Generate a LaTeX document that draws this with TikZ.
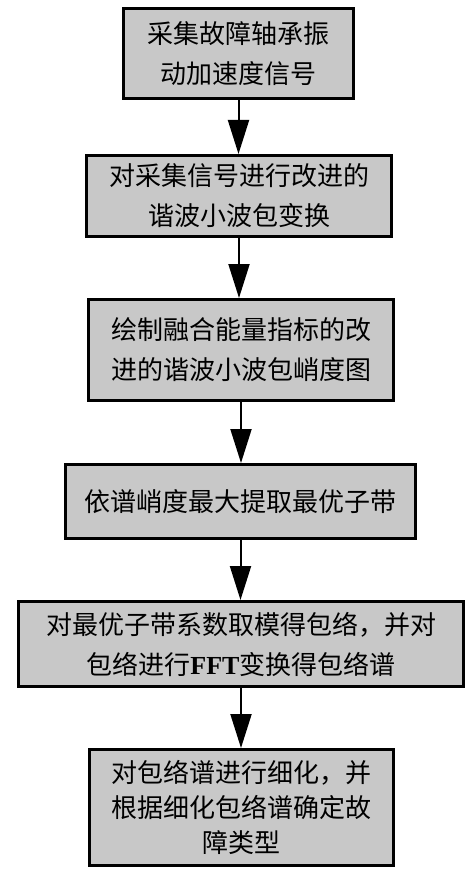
\documentclass[tikz,border=0pt]{standalone}
\usepackage{fontspec}
\newfontfamily\cjk{Noto Sans CJK SC}
\newfontfamily\latinserif{Liberation Serif}
\usetikzlibrary{arrows.meta}
\definecolor{boxgrey}{RGB}{200,200,200}

\begin{document}
\begin{tikzpicture}[
  x=1pt, y=-1pt,
  font=\cjk\fontsize{26}{40}\selectfont,
  stepbox/.style={draw=black, line width=3pt, fill=boxgrey, align=center, inner sep=0pt},
  arr/.style={line width=2pt, -{Triangle[length=34pt,width=21pt]}}
]
\useasboundingbox (0,0) rectangle (474,877);
\node[stepbox, minimum width=230pt, minimum height=90pt]  (acq)   at (238.5,53.5) {采集故障轴承振\\动加速度信号};
\node[stepbox, minimum width=305pt, minimum height=81pt]  (iwpt)  at (239,196)    {对采集信号进行改进的\\谐波小波包变换};
\node[stepbox, minimum width=305pt, minimum height=101pt] (kgram) at (241,350)    {绘制融合能量指标的改\\进的谐波小波包峭度图};
\node[stepbox, minimum width=350pt, minimum height=74pt]  (band)  at (240.5,501.5) {依谱峭度最大提取最优子带};
\node[stepbox, minimum width=445pt, minimum height=85pt]  (env)   at (241,644)    {对最优子带系数取模得包络，并对\\包络进行{\latinserif\bfseries FFT}变换得包络谱};
\node[stepbox, minimum width=304pt, minimum height=116pt,
      font=\cjk\fontsize{26}{35}\selectfont]               (diag)  at (241.5,807.5) {对包络谱进行细化，并\\根据细化包络谱确定故\\障类型};
% arrows between steps
\draw[arr] (acq.south)   -- (acq.south |- iwpt.north);
\draw[arr] (iwpt.south)  -- (iwpt.south |- kgram.north);
\draw[arr] (kgram.south) -- (kgram.south |- band.north);
\draw[arr] (band.south)  -- (band.south |- env.north);
\draw[arr] (env.south)   -- (env.south |- diag.north);
\end{tikzpicture}
\end{document}
